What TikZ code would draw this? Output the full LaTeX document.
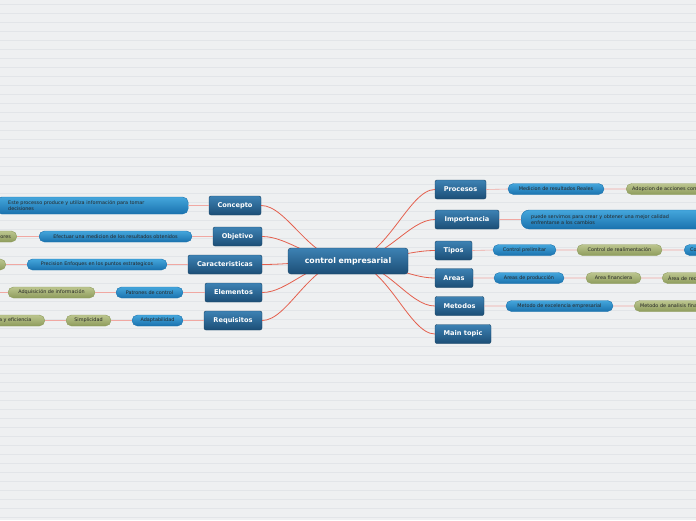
\documentclass[tikz,border=0pt]{standalone}
\usepackage{fontspec}
\setmainfont{DejaVu Sans}
\begin{document}
\begin{tikzpicture}[x=1pt,y=-1pt,
  mainb/.style={rounded corners=2pt,top color=main1,bottom color=main2,draw=main3,text=white,
    font=\bfseries\fontsize{6.6}{7}\selectfont,minimum height=19pt,inner sep=0pt},
  subb/.style={rounded corners=5.5pt,top color=sub1,bottom color=sub2,draw=sub2,text=black!85,
    font=\fontsize{4.9}{5.4}\selectfont,minimum height=11pt,inner sep=0pt},
  subg/.style={subb,top color=gr1,bottom color=gr2,draw=gr2},
  cut/.style={anchor=west,align=left,text width=#1},
  conn/.style={draw=lineR,line width=0.8pt},
  thin/.style={draw=lineP,line width=0.6pt}]
\definecolor{main1}{HTML}{3D82B4}\definecolor{main2}{HTML}{1C4E76}\definecolor{main3}{HTML}{174466}
\definecolor{sub1}{HTML}{44A6DC}\definecolor{sub2}{HTML}{1A72AE}
\definecolor{gr1}{HTML}{BCC68F}\definecolor{gr2}{HTML}{8E9C5C}
\definecolor{lineR}{HTML}{E4604E}\definecolor{lineP}{HTML}{F0A8A2}
\definecolor{bg}{HTML}{EEF0F1}\definecolor{bgl}{HTML}{E2E5E8}
\useasboundingbox (0,0) rectangle (696,520);
\clip (0,0) rectangle (696,520);
\fill[bg] (0,0) rectangle (696,520);
\foreach \y in {4,13,...,520} \draw[bgl,line width=0.4pt] (0,\y) -- (696,\y);
\coordinate (cc) at (348,261);
% sub nodes
\node[subb,minimum width=192pt,anchor=west,align=left,text width=180pt,font=\fontsize{4.9}{5.6}\selectfont,minimum height=17pt] (s1) at (-4,205.5) {\hspace*{6pt}Este processo produce y utiliza información para tomar\\\hspace*{6pt}decisiones};
\node[subb,minimum width=153pt] (s2) at (115.5,236.5) {Efectuar una medicion de los resultados obtenidos};
\node[subg,minimum width=40pt,anchor=east] (s2g) at (17,236.5) {Indicadores};
\node[subb,minimum width=140pt] (s3) at (97,264.5) {Precision Enfoques en los puntos estrategicos};
\node[subg,minimum width=30pt,anchor=east] (s3g) at (6,264.5) {};
\node[subb,minimum width=67pt] (s4) at (149.5,292.5) {Patrones de control};
\node[subg,minimum width=87pt] (s4g) at (51.5,292.5) {Adquisición de información};
\node[subb,minimum width=51pt] (s5) at (157.5,320.5) {Adaptabilidad};
\node[subg,minimum width=45pt] (s5g) at (88.5,320.5) {Simplicidad};
\node[subg,minimum width=70pt,anchor=east] (s5h) at (45,320.5) {Eficacia y eficiencia\hspace*{5pt}};
\node[subb,minimum width=96pt] (r1) at (556,189) {Medicion de resultados Reales};
\node[subg,cut=110pt] (r1g) at (626,189) {\hspace*{6pt}Adopcion de acciones correctivas};
\node[subb,cut=200pt,font=\fontsize{4.9}{5.6}\selectfont,minimum height=19pt,rounded corners=8pt] (r2) at (521,219.5) {\hspace*{10pt}puede servirnos para crear y obtener una mejor calidad\\\hspace*{10pt}enfrentarse a los cambios};
\node[subb,minimum width=63pt] (r3) at (524.5,250) {Control prelimitar};
\node[subg,minimum width=85pt] (r3g) at (619.5,250) {Control de realimentación};
\node[subb,cut=70pt] (r3h) at (684,250) {\hspace*{6pt}Control concurrente};
\node[subb,minimum width=70pt] (r4) at (529,278) {Areas de producción};
\node[subg,minimum width=55pt] (r4g) at (613.5,278) {Area financiera};
\node[subg,cut=80pt] (r4h) at (662,278) {\hspace*{6pt}Área de recursos humanos};
\node[subb,minimum width=107pt] (r5) at (559.5,306) {Metodo de excelencia empresarial};
\node[subg,cut=110pt] (r5g) at (634,306) {\hspace*{6pt}Metodo de analisis financiero};
% main topics
\node[mainb,minimum width=52pt] (m1) at (235,205.5) {Concepto};
\node[mainb,minimum width=49pt] (m2) at (237.5,236.5) {Objetivo};
\node[mainb,minimum width=74pt] (m3) at (225,264.5) {Caracteristicas};
\node[mainb,minimum width=57pt] (m4) at (233.5,292.5) {Elementos};
\node[mainb,minimum width=58pt] (m5) at (233,320.5) {Requisitos};
\node[mainb,minimum width=51pt] (n1) at (460.5,189.5) {Procesos};
\node[mainb,minimum width=64pt] (n2) at (467,219.5) {Importancia};
\node[mainb,minimum width=37pt] (n3) at (453.5,250.5) {Tipos};
\node[mainb,minimum width=38pt] (n4) at (454,278) {Areas};
\node[mainb,minimum width=49pt] (n5) at (459.5,306) {Metodos};
\node[mainb,minimum width=56pt] (n6) at (463,334) {Main topic};
% connectors
\path[thin] (m1.west) -- (s1.east) (m2.west) -- (s2.east) (s2.west) -- (s2g.east)
 (m3.west) -- (s3.east) (s3.west) -- (s3g.east)
 (m4.west) -- (s4.east) (s4.west) -- (s4g.east) (s4g.west) -- (0,292.5)
 (m5.west) -- (s5.east) (s5.west) -- (s5g.east) (s5g.west) -- (s5h.east)
 (n1.east) -- (r1.west) (r1.east) -- (r1g.west) (n2.east) -- (r2.west)
 (n3.east) -- (r3.west) (r3.east) -- (r3g.west) (r3g.east) -- (r3h.west)
 (n4.east) -- (r4.west) (r4.east) -- (r4g.west) (r4g.east) -- (r4h.west)
 (n5.east) -- (r5.west) (r5.east) -- (r5g.west);
\foreach \m in {m1,m2,m3,m4,m5} \draw[conn] (cc) .. controls (310,261) and ([xshift=26pt]\m.east) .. (\m.east);
\foreach \m in {n1,n2,n3,n4,n5,n6} \draw[conn] (cc) .. controls (386,261) and ([xshift=-26pt]\m.west) .. (\m.west);
\node[mainb,minimum width=120pt,minimum height=26pt,rounded corners=3pt,font=\bfseries\fontsize{7.8}{8}\selectfont] (c) at (cc) {control empresarial};
\end{tikzpicture}
\end{document}
